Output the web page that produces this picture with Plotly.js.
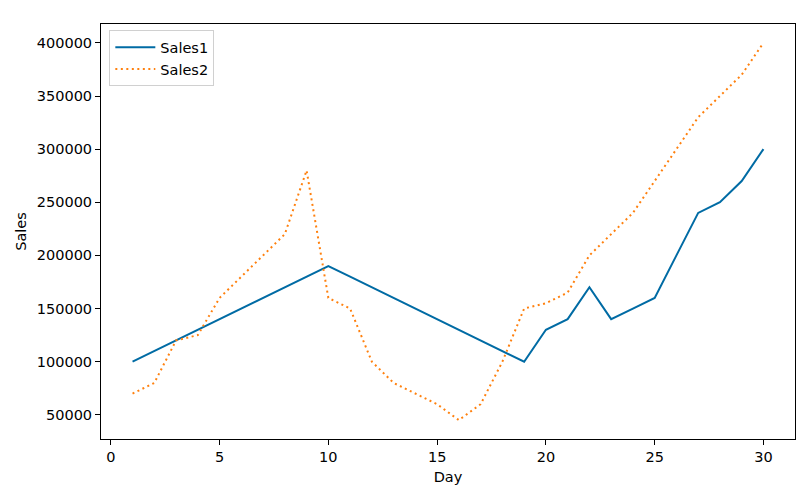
<!DOCTYPE html>
<html>
<head>
<meta charset="utf-8">
<script src="https://cdn.plot.ly/plotly-3.0.1.min.js"></script>
<style>
  html, body { margin: 0; padding: 0; background: #fff; }
  #chart { width: 800px; height: 485px; }
</style>
</head>
<body>
<div id="chart"></div>
<script>
// values
var days = [1, 2, 3, 4, 5, 6, 7, 8, 9, 10,
            11, 12, 13, 14, 15, 16, 17, 18, 19, 20,
            21, 22, 23, 24, 25, 26, 27, 28, 29, 30];

var sales1 = [100000, 110000, 120000, 130000, 140000, 150000, 160000, 170000, 180000, 190000,
              180000, 170000, 160000, 150000, 140000, 130000, 120000, 110000, 100000, 130000,
              140000, 170000, 140000, 150000, 160000, 200000, 240000, 250000, 270000, 300000];

var sales2 = [70000, 80000, 120000, 125000, 160000, 180000, 200000, 220000, 280000, 160000,
              150000, 100000, 80000, 70000, 60000, 45000, 60000, 100000, 150000, 155000,
              165000, 200000, 220000, 240000, 270000, 300000, 330000, 350000, 370000, 400000];

var yTicks = [50000, 100000, 150000, 200000, 250000, 300000, 350000, 400000];
var xTicks = [0, 5, 10, 15, 20, 25, 30];

var FONT = { family: "DejaVu Sans", size: 14.5, color: "#000" };

var trace1 = {
  x: days,
  y: sales1,
  name: "Sales1",
  type: "scatter",
  mode: "lines",
  line: { color: "#006BA4", width: 2, dash: "solid" }
};

var trace2 = {
  x: days,
  y: sales2,
  name: "Sales2",
  type: "scatter",
  mode: "lines",
  line: { color: "#FF800E", width: 2, dash: "2px,3.5px" }
};

var axisStyle = {
  showgrid: false,
  zeroline: false,
  showline: true,
  linecolor: "#000",
  linewidth: 1,
  mirror: true,
  ticks: "outside",
  ticklen: 5,
  tickwidth: 1,
  tickcolor: "#000",
  tickfont: FONT
};

var layout = {
  width: 800,
  height: 485,
  plot_bgcolor: "#fff",
  paper_bgcolor: "#fff",
  font: FONT,
  margin: { l: 101, r: 5, t: 24, b: 46 },
  showlegend: true,
  legend: {
    x: 0.012, y: 0.985,
    xanchor: "left", yanchor: "top",
    bgcolor: "rgba(255,255,255,0.8)",
    bordercolor: "#d0d0d0",
    borderwidth: 1,
    itemwidth: 40,
    font: FONT,
    tracegroupgap: 0
  },
  xaxis: Object.assign({}, axisStyle, {
    range: [-0.45, 31.45],
    tickmode: "array",
    tickvals: xTicks,
    ticktext: xTicks.map(String),
    title: { text: "Day", standoff: 8, font: FONT }
  }),
  yaxis: Object.assign({}, axisStyle, {
    range: [27250, 417750],
    tickmode: "array",
    tickvals: yTicks,
    ticktext: yTicks.map(String),
    title: { text: "Sales", standoff: 6, font: FONT }
  })
};

Plotly.newPlot("chart", [trace1, trace2], layout, { displayModeBar: false, staticPlot: true });
</script>
</body>
</html>
